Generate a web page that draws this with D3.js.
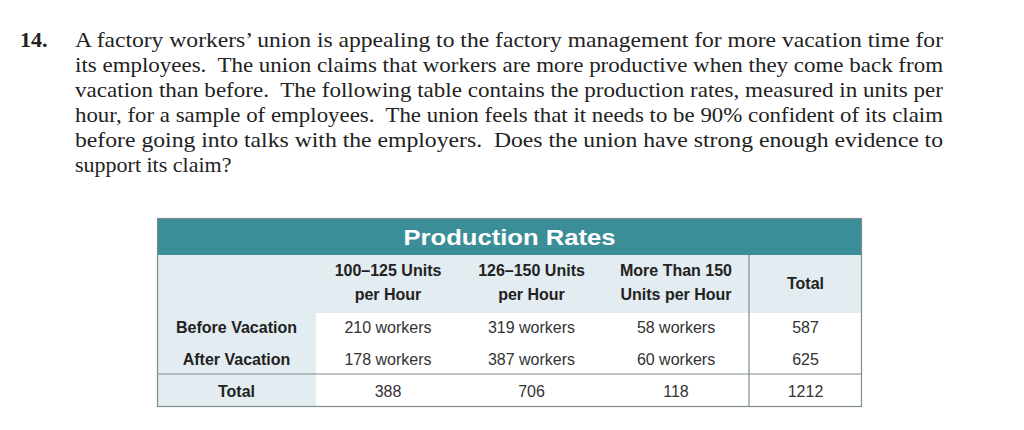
<!DOCTYPE html>
<html><head><meta charset="utf-8">
<script src="https://cdn.jsdelivr.net/npm/d3@7"></script>
<style>body{margin:0;background:#fff}</style></head>
<body><svg id="c" width="1024" height="430"></svg>
<script>
const problemNumber = "14.";
const paragraph = [
 "A factory workers\u2019 union is appealing to the factory management for more vacation time for",
 "its employees.  The union claims that workers are more productive when they come back from",
 "vacation than before.  The following table contains the production rates, measured in units per",
 "hour, for a sample of employees.  The union feels that it needs to be 90% confident of its claim",
 "before going into talks with the employers.  Does the union have strong enough evidence to",
 "support its claim?"
];
const tableTitle = "Production Rates";
const columnHeaders = [["100\u2013125 Units","per Hour"],["126\u2013150 Units","per Hour"],["More Than 150","Units per Hour"],["Total"]];
const rowLabels = ["Before Vacation","After Vacation","Total"];
const cellValues = [
 ["210 workers","319 workers","58 workers","587"],
 ["178 workers","387 workers","60 workers","625"],
 ["388","706","118","1212"]
];

const svg = d3.select("#c");
const serif = "'Liberation Serif','Times New Roman',serif";
svg.append("text").attr("x",20).attr("y",47).attr("font-family",serif).attr("font-weight","bold")
  .attr("font-size",22).attr("fill","#222").text(problemNumber);
const ly = d3.scaleLinear().domain([0,1]).range([47,72]);
paragraph.forEach((t,i)=>{
  const el = svg.append("text").attr("x",75).attr("y",ly(i)).attr("font-family",serif)
    .attr("font-size",22).attr("fill","#222").style("white-space","pre").text(t);
  if(i<paragraph.length-1) el.attr("textLength",868).attr("lengthAdjust","spacingAndGlyphs");
});

const edges = [157,316,460,603,749,862];
const tTop=218, titleB=255, headB=313, tBottom=407, totalTop=374;
const rowY = d3.scalePoint().domain(rowLabels).range([327,391]);
const colX = i => (edges[i]+edges[i+1])/2;
const narrow = "'Liberation Sans Narrow','Arial Narrow','Liberation Sans',sans-serif";
const light="#e3ecf0", teal="#3b8e97", lineC="#7f8a8e";
const g = svg.append("g");
g.append("rect").attr("x",edges[0]).attr("y",tTop).attr("width",edges[5]-edges[0]).attr("height",titleB-tTop).attr("fill",teal);
g.append("rect").attr("x",edges[0]).attr("y",titleB).attr("width",edges[5]-edges[0]).attr("height",headB-titleB).attr("fill",light);
g.append("rect").attr("x",edges[0]).attr("y",headB).attr("width",edges[1]-edges[0]).attr("height",tBottom-headB).attr("fill",light);
g.append("line").attr("x1",edges[4]).attr("x2",edges[4]).attr("y1",titleB).attr("y2",tBottom).attr("stroke",lineC).attr("stroke-width",1.2);
g.append("line").attr("x1",edges[0]).attr("x2",edges[5]).attr("y1",totalTop).attr("y2",totalTop).attr("stroke",lineC).attr("stroke-width",1.2);
g.append("rect").attr("x",edges[0]+0.5).attr("y",tTop+0.5).attr("width",edges[5]-edges[0]-1).attr("height",tBottom-tTop-1).attr("fill","none").attr("stroke",lineC).attr("stroke-width",1.2);
g.append("text").attr("x",(edges[0]+edges[5])/2).attr("y",245).attr("text-anchor","middle")
  .attr("font-family","'Liberation Sans',Arial,sans-serif").attr("font-weight","bold").attr("font-size",22)
  .attr("fill","#fff").attr("textLength",212).attr("lengthAdjust","spacingAndGlyphs").text(tableTitle);
columnHeaders.forEach((h,i)=>{
  const y0 = h.length===1 ? 289 : 276;
  h.forEach((t,k)=>g.append("text").attr("x",colX(i+1)).attr("y",y0+k*24).attr("text-anchor","middle")
    .attr("font-family",narrow).attr("font-weight","bold").attr("font-size",16).attr("fill","#222").text(t));
});
rowLabels.forEach((r,ri)=>{
  g.append("text").attr("x",colX(0)).attr("y",rowY(r)+6).attr("text-anchor","middle")
    .attr("font-family",narrow).attr("font-weight","bold").attr("font-size",16).attr("fill","#222").text(r);
  cellValues[ri].forEach((v,ci)=>g.append("text").attr("x",colX(ci+1)).attr("y",rowY(r)+6).attr("text-anchor","middle")
    .attr("font-family",narrow).attr("font-size",16).attr("fill","#333").text(v));
});
</script></body></html>
